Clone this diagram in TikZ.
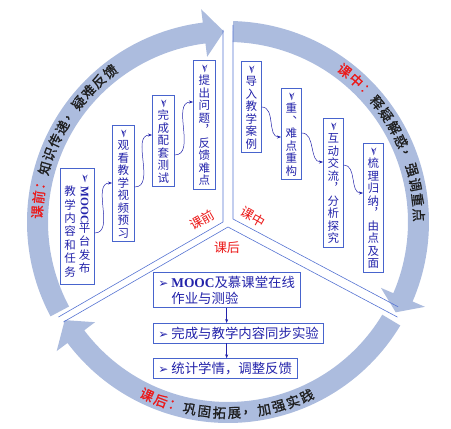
\documentclass[tikz,border=0pt]{standalone}
\usepackage{fontspec}
\setmainfont{Noto Sans CJK SC}
\newfontfamily\ringfont[FakeBold=1.2]{Noto Sans CJK SC}
\newfontfamily\symfont{DejaVu Sans}
\newfontfamily\latfont{Liberation Serif}
\usepackage{graphicx}
\usetikzlibrary{arrows.meta,positioning,calc}

\definecolor{ringblue}{RGB}{172,188,222}
\definecolor{boxblue}{RGB}{72,100,205}
\definecolor{txtblue}{RGB}{35,35,170}
\definecolor{lineblue}{RGB}{85,115,210}
\definecolor{hdred}{RGB}{235,25,25}
\definecolor{ringtxt}{RGB}{30,30,30}

\newcommand\mkv{\rotatebox[origin=c]{-90}{\symfont\fontsize{12}{12}\selectfont ➢}}
\newcommand\mkh{{\symfont\fontsize{12}{12}\selectfont ➢}}
\newcommand\vcol[1]{\begin{tabular}[t]{@{}c@{}}#1\end{tabular}}

\begin{document}
\begin{tikzpicture}[x=1pt, y=1pt,
    >={Stealth[length=4pt, width=3pt]},
    vbox/.style={draw=boxblue, line width=0.7pt, text=txtblue, align=center,
                 font=\fontsize{11.5}{12.5}\selectfont, minimum width=22pt,
                 inner xsep=2pt, inner ysep=3.5pt, anchor=north west},
    hbox/.style={draw=boxblue, line width=0.7pt, text=txtblue, align=left,
                 font=\fontsize{13.4}{16}\selectfont, inner xsep=5pt, inner ysep=3.5pt},
    link/.style={->, draw=txtblue, line width=0.5pt},
    sector/.style={draw=lineblue, line width=0.6pt},
    seclab/.style={text=hdred, font=\fontsize{13}{13}\selectfont, inner sep=0pt},
    ringchar/.style={font=\ringfont\fontsize{13.5}{13.5}\selectfont, inner sep=0pt},
  ]
  \useasboundingbox (0,0) rectangle (451,429);

  % --- the three ring arrows (clockwise) ---
  \begin{scope}[shift={(228,207)}]
    \foreach \s/\t/\h in {208/91.2/6, 88.5/-28.3/5, -31/-149/6} {
      \pgfmathsetmacro\b{\t+\h}
      \fill[ringblue] (\s:201) arc[start angle=\s, end angle=\b, radius=201]
        -- (\b:214.5) -- (\t:190.5) -- (\b:166.5) -- (\b:180)
        arc[start angle=\b, end angle=\s, radius=180] -- cycle;
    }

    % ring texts
    \foreach \ch [count=\i from 0, evaluate=\i as \a using 177-4.45*\i,
                  evaluate=\i as \r using 87-4.45*\i]
      in {课,前,：,知,识,传,递,，,疑,难,反,馈}
      {\ifnum\i<3 \def\cc{hdred}\else\def\cc{ringtxt}\fi
       \node[ringchar, text=\cc, rotate=\r] (qian\i) at (\a:191) {\ch};}
    \foreach \ch [count=\i from 0, evaluate=\i as \a using 52.4-4.57*\i,
                  evaluate=\i as \r using -37.6-4.57*\i]
      in {课,中,：,释,疑,解,惑,，,强,调,重,点}
      {\ifnum\i<3 \def\cc{hdred}\else\def\cc{ringtxt}\fi
       \node[ringchar, text=\cc, rotate=\r] (zhong\i) at (\a:191) {\ch};}
    \foreach \ch [count=\i from 0, evaluate=\i as \a using 244.9+4.5*\i,
                  evaluate=\i as \r using 334.9+4.5*\i]
      in {课,后,：,巩,固,拓,展,，,加,强,实,践}
      {\ifnum\i<3 \def\cc{hdred}\else\def\cc{ringtxt}\fi
       \node[ringchar, text=\cc, rotate=\r] (hou\i) at (\a:191) {\ch};}
  \end{scope}

  % --- sector borders ---
  \draw[sector] (223,399) -- (223,207) -- ++(210:190);
  \draw[sector] (233,404) -- (233,210) -- ++(-28:187);
  \draw[sector] (228,202) ++(210:190) -- (228,202) -- ++(-28:192);

  \node[seclab, rotate=30] (lqian) at (202,209) {课前};
  \node[seclab, rotate=-30] (lzhong) at (253,212) {课中};
  \node[seclab] (lhou) at (227,181) {课后};

  % --- before class ---
  \node[vbox, inner xsep=4pt, inner ysep=5pt] (L1) at (60,261)
    {\vcol{\\教\\学\\内\\容\\和\\任\\务}\hspace{3pt}%
     \vcol{\mkv\\\raisebox{8pt}{\rotatebox{-90}{\latfont\bfseries MOOC}}\\平\\台\\发\\布}};
  \node[vbox] (L2) at (112,304) {\mkv\\观\\看\\教\\学\\视\\频\\预\\习};
  \node[vbox] (L3) at (152,334) {\mkv\\完\\成\\配\\套\\测\\试};
  \node[vbox] (L4) at (193,369) {\mkv\\提\\出\\问\\题\\︐\\反\\馈\\难\\点};

  \draw[link] ($(L1.north east)+(0,-65)$) to[out=0, in=180] ($(L2.north west)+(0,-58)$);
  \draw[link] ($(L2.north east)+(0,-62)$) to[out=0, in=180] ($(L3.north west)+(0,-40)$);
  \draw[link] ($(L3.north east)+(0,-60)$) to[out=0, in=180] ($(L4.north west)+(0,-42)$);

  % --- in class ---
  \node[vbox, minimum width=20pt] (R1) at (241,368) {\mkv\\导\\入\\教\\学\\案\\例};
  \node[vbox, minimum width=20pt] (R2) at (281,341) {\mkv\\重\\︑\\难\\点\\重\\构};
  \node[vbox, minimum width=20pt] (R3) at (323,311) {\mkv\\互\\动\\交\\流\\︐\\分\\析\\探\\究};
  \node[vbox, minimum width=20pt] (R4) at (363,286) {\mkv\\梳\\理\\归\\纳\\︐\\由\\点\\及\\面};

  \draw[link] ($(R1.north east)+(0,-46)$) to[out=0, in=180] ($(R2.north west)+(0,-49)$);
  \draw[link] ($(R2.north east)+(0,-45)$) to[out=0, in=180] ($(R3.north west)+(0,-44)$);
  \draw[link] ($(R3.north east)+(0,-47)$) to[out=0, in=180] ($(R4.north west)+(0,-50)$);

  % --- after class ---
  \node[hbox, anchor=north west] (B1) at (153,157)
    {\mkh\hspace{3pt}{\latfont\bfseries MOOC}及慕课堂在线\\\phantom{\mkh\hspace{3pt}}作业与测验};
  \node[hbox, below=15pt of B1.south west, anchor=north west] (B2)
    {\mkh\hspace{3pt}完成与教学内容同步实验};
  \node[hbox, below=15pt of B2.south west, anchor=north west] (B3)
    {\mkh\hspace{3pt}统计学情，调整反馈};

  \draw[link] (B1.south) -- (B1.south |- B2.north);
  \draw[link] (B1.south |- B2.south) -- (B1.south |- B3.north);
\end{tikzpicture}
\end{document}
